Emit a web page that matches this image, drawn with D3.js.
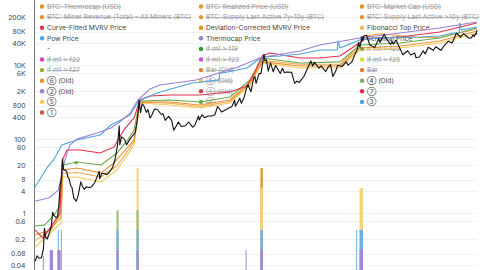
<!DOCTYPE html>
<html>
<head>
<meta charset="utf-8">
<script src="https://cdn.jsdelivr.net/npm/d3@7"></script>
<style>
  html, body { margin: 0; padding: 0; background: #fff; }
  svg { display: block; }
</style>
</head>
<body>
<div class="chart"></div>
<script>
'use strict';

// BTC price (USD)
var btcPrice = [
  ["2010-07-18", 0.05], ["2010-08-10", 0.07], ["2010-09-05", 0.06], ["2010-10-01", 0.062],
  ["2010-10-25", 0.11], ["2010-11-06", 0.39], ["2010-11-20", 0.22], ["2010-12-10", 0.2],
  ["2011-01-05", 0.3], ["2011-01-25", 0.42], ["2011-02-10", 1.05], ["2011-02-25", 0.88],
  ["2011-03-20", 0.76], ["2011-04-10", 0.8], ["2011-04-25", 1.6], ["2011-05-10", 5.5],
  ["2011-05-25", 8.5], ["2011-06-08", 29], ["2011-06-20", 15], ["2011-07-05", 14.5],
  ["2011-07-25", 13.8], ["2011-08-10", 9.5], ["2011-08-25", 8.3], ["2011-09-12", 5.6],
  ["2011-09-28", 4.9], ["2011-10-20", 2.5], ["2011-11-18", 2.1], ["2011-12-10", 3],
  ["2012-01-10", 7], ["2012-01-28", 5.4], ["2012-02-20", 4.4], ["2012-03-15", 5.1],
  ["2012-04-15", 4.9], ["2012-05-15", 5.1], ["2012-06-20", 6.5], ["2012-07-15", 8.8],
  ["2012-08-16", 13.5], ["2012-08-20", 8.5], ["2012-09-15", 12], ["2012-10-15", 11.8],
  ["2012-11-15", 11], ["2012-12-20", 13.5], ["2013-01-20", 17], ["2013-02-20", 29],
  ["2013-03-20", 70], ["2013-04-09", 230], ["2013-04-16", 70], ["2013-05-05", 115],
  ["2013-06-10", 100], ["2013-07-05", 70], ["2013-08-15", 100], ["2013-09-15", 125],
  ["2013-10-15", 150], ["2013-11-10", 330], ["2013-11-30", 1130], ["2013-12-18", 520],
  ["2014-01-05", 900], ["2014-01-25", 800], ["2014-02-25", 530], ["2014-03-15", 630],
  ["2014-04-10", 370], ["2014-05-01", 450], ["2014-06-01", 650], ["2014-07-05", 630],
  ["2014-08-18", 470], ["2014-09-10", 480], ["2014-10-05", 320], ["2014-11-15", 410],
  ["2014-12-20", 320], ["2015-01-14", 175], ["2015-02-10", 220], ["2015-03-10", 290],
  ["2015-04-15", 220], ["2015-06-01", 230], ["2015-07-10", 290], ["2015-08-25", 210],
  ["2015-09-20", 235], ["2015-11-04", 420], ["2015-11-12", 330], ["2015-12-15", 455],
  ["2016-01-15", 380], ["2016-02-25", 420], ["2016-04-15", 425], ["2016-05-15", 455],
  ["2016-06-17", 760], ["2016-07-10", 650], ["2016-08-02", 540], ["2016-09-15", 610],
  ["2016-10-28", 690], ["2016-12-01", 750], ["2017-01-05", 1130], ["2017-01-12", 780],
  ["2017-02-10", 990], ["2017-03-05", 1270], ["2017-03-25", 930], ["2017-04-25", 1300],
  ["2017-05-25", 2400], ["2017-06-12", 2950], ["2017-07-16", 1900], ["2017-08-15", 4300],
  ["2017-09-01", 4900], ["2017-09-15", 3200], ["2017-10-20", 5900], ["2017-11-12", 5900],
  ["2017-12-17", 19500], ["2017-12-30", 13000], ["2018-01-15", 14000], ["2018-02-06", 6900],
  ["2018-03-05", 11500], ["2018-04-06", 6600], ["2018-05-05", 9800], ["2018-06-28", 5900],
  ["2018-07-25", 8200], ["2018-08-15", 6300], ["2018-09-15", 6500], ["2018-11-10", 6400],
  ["2018-12-15", 3200], ["2019-01-10", 3700], ["2019-02-08", 3400], ["2019-04-05", 5000],
  ["2019-05-15", 8000], ["2019-06-26", 12900], ["2019-07-17", 9400], ["2019-08-06", 11800],
  ["2019-09-30", 8300], ["2019-10-26", 9500], ["2019-12-17", 6600], ["2020-01-15", 8800],
  ["2020-02-13", 10300], ["2020-03-12", 4900], ["2020-04-15", 6900], ["2020-05-08", 9900],
  ["2020-07-01", 9200], ["2020-08-17", 12300], ["2020-09-08", 10000], ["2020-10-20", 12000],
  ["2020-11-30", 19500], ["2020-12-31", 29000], ["2021-01-08", 40800], ["2021-01-27", 30400],
  ["2021-02-21", 57000], ["2021-02-28", 45000], ["2021-03-13", 61000], ["2021-04-14", 64000],
  ["2021-05-23", 34700], ["2021-06-22", 32500], ["2021-07-20", 29800], ["2021-09-06", 52000],
  ["2021-09-21", 40600], ["2021-11-09", 68000], ["2021-12-15", 48000], ["2022-01-24", 36500],
  ["2022-02-10", 44000], ["2022-02-24", 37000], ["2022-03-29", 47400], ["2022-05-12", 29000],
  ["2022-06-18", 19000], ["2022-08-14", 24400], ["2022-09-20", 18800], ["2022-11-05", 21300],
  ["2022-11-21", 15800], ["2022-12-31", 16500], ["2023-02-15", 24300], ["2023-03-10", 20000],
  ["2023-04-14", 30400], ["2023-06-15", 25100], ["2023-07-13", 31400], ["2023-09-11", 25100],
  ["2023-10-25", 34500], ["2023-12-08", 44000], ["2024-01-23", 39500], ["2024-03-13", 73000],
  ["2024-05-01", 57000], ["2024-06-07", 71000], ["2024-08-05", 54000], ["2024-09-06", 53900],
  ["2024-09-27", 65800], ["2024-10-10", 59000], ["2024-10-29", 72500], ["2024-11-03", 68500],
  ["2024-11-11", 88000]
];

var thermocapPrice = [
  ["2010-07-17", 2.1], ["2011-01-01", 2.6], ["2011-04-20", 4.2], ["2011-07-06", 27],
  ["2011-09-02", 69], ["2011-11-24", 100], ["2012-07-20", 146], ["2013-01-01", 200],
  ["2013-04-12", 290], ["2013-08-15", 500], ["2013-11-17", 1140], ["2014-04-09", 2270],
  ["2014-08-04", 2900], ["2015-10-06", 3960], ["2017-02-12", 8900], ["2017-10-27", 15600],
  ["2018-02-28", 17600], ["2019-02-17", 24100], ["2019-10-10", 35000], ["2021-01-26", 54100],
  ["2022-05-15", 73800], ["2023-08-29", 100800], ["2024-11-09", 146500]
];

var powPrice = [
  ["2010-07-17", 5.1], ["2010-12-05", 16.6], ["2011-02-20", 27], ["2011-05-31", 69],
  ["2011-11-24", 95], ["2012-08-25", 129], ["2013-01-01", 241], ["2013-04-27", 329],
  ["2013-08-15", 449], ["2013-11-17", 1008], ["2014-02-06", 1293], ["2014-08-04", 1880],
  ["2015-08-23", 3290], ["2016-07-05", 4000], ["2016-07-12", 6000], ["2016-10-13", 6520],
  ["2017-05-30", 8370], ["2017-11-24", 16600], ["2018-06-25", 17600], ["2019-02-17", 20000],
  ["2019-10-10", 25600], ["2020-05-05", 25600], ["2020-05-12", 44900], ["2020-06-03", 29000],
  ["2021-01-26", 47800], ["2021-09-20", 54100], ["2023-01-08", 57600], ["2023-08-29", 61300],
  ["2024-02-01", 73800], ["2024-04-15", 73800], ["2024-04-22", 137700], ["2024-05-10", 88900],
  ["2024-11-09", 107000]
];

var curveFittedMvrv = [
  ["2010-07-17", 0.35], ["2010-10-19", 0.21], ["2011-01-11", 0.4], ["2011-04-02", 0.74],
  ["2011-05-08", 1.07], ["2011-06-05", 27], ["2011-07-30", 51], ["2012-01-01", 51],
  ["2012-08-25", 42], ["2013-02-06", 61], ["2013-06-03", 177], ["2013-10-01", 373],
  ["2013-12-10", 1140], ["2014-04-09", 1465], ["2014-11-30", 1560], ["2015-11-20", 1560],
  ["2016-11-10", 1880], ["2017-05-30", 2730], ["2017-09-01", 6520], ["2017-11-24", 17600],
  ["2018-02-28", 21300], ["2019-02-17", 15600], ["2019-10-10", 15600], ["2020-06-03", 17600],
  ["2020-11-28", 32900], ["2021-03-25", 50800], ["2022-05-15", 57600], ["2023-08-29", 78700],
  ["2024-11-09", 137700]
];

var oldFour = [
  ["2010-07-17", 0.45], ["2010-11-11", 0.48], ["2011-02-27", 0.89], ["2011-04-27", 1.38],
  ["2011-06-13", 20], ["2011-11-24", 24], ["2012-09-05", 20], ["2013-03-14", 42],
  ["2013-07-19", 95], ["2013-10-01", 177], ["2013-12-10", 1072], ["2014-11-30", 1140],
  ["2015-11-20", 1010], ["2016-11-10", 1377], ["2017-07-05", 4000], ["2017-11-24", 15600],
  ["2019-02-17", 11400], ["2020-06-03", 12200], ["2021-01-26", 35000], ["2022-05-15", 39600],
  ["2023-08-29", 54100], ["2024-11-09", 100800]
];

var deviationMvrv = [
  ["2010-07-17", 0.26], ["2011-01-22", 0.35], ["2011-05-20", 1.0], ["2011-06-10", 14.6],
  ["2011-11-24", 16.6], ["2012-09-05", 12.2], ["2013-02-06", 22.6], ["2013-10-01", 95],
  ["2013-12-10", 1008], ["2014-11-30", 1008], ["2015-11-20", 837], ["2016-11-10", 1140],
  ["2017-07-05", 3500], ["2017-11-24", 12200], ["2019-02-17", 9480], ["2020-06-03", 9480],
  ["2021-01-26", 29000], ["2022-05-15", 32900], ["2023-08-29", 44900], ["2024-11-09", 83600]
];

var fibonacciTop = [
  ["2010-07-17", 0.18], ["2010-12-05", 0.3], ["2011-05-20", 0.74], ["2011-06-10", 12],
  ["2011-11-24", 12.5], ["2012-09-05", 9.5], ["2013-03-14", 19], ["2013-10-01", 84],
  ["2013-12-10", 1000], ["2014-11-30", 930], ["2015-11-20", 760], ["2016-11-10", 1040],
  ["2017-07-05", 3200], ["2017-11-24", 13500], ["2018-06-25", 12000], ["2019-02-17", 10500],
  ["2020-06-03", 10500], ["2020-11-28", 25600], ["2021-03-25", 61300], ["2021-09-20", 70000],
  ["2022-05-15", 62000], ["2023-01-08", 56000], ["2023-08-29", 56000], ["2024-11-09", 95000]
];

var fiveSeries = [
  ["2010-07-17", 0.12], ["2010-12-05", 0.23], ["2011-05-20", 0.54], ["2011-06-10", 9.5],
  ["2011-11-24", 9.5], ["2012-09-05", 6.9], ["2013-03-14", 14.6], ["2013-10-01", 69],
  ["2013-12-10", 948], ["2014-11-30", 837], ["2015-11-20", 695], ["2016-11-10", 948],
  ["2017-07-05", 2900], ["2017-11-24", 11400], ["2019-02-17", 8370], ["2020-06-03", 8370],
  ["2021-01-26", 25600], ["2022-05-15", 29000], ["2023-08-29", 39600], ["2024-11-09", 73800]
];

// signal bars: [from, to, level]
var sigOrange = [["2017-11-05", "2017-12-05", 16.6]];
var sigYellow = [["2013-10-31", "2013-11-24", 16.6], ["2017-11-05", "2017-12-05", 4.8],
  ["2021-01-22", "2021-03-03", 4.8]];
var sigGreen = [["2013-03-08", "2013-04-01", 1.2], ["2013-10-31", "2013-11-24", 1.2]];
var sigBlue = [["2011-04-13", "2011-04-20", 0.35], ["2011-05-19", "2011-05-26", 0.35],
  ["2013-03-08", "2013-04-01", 0.35], ["2013-10-31", "2013-11-24", 0.35],
  ["2017-11-05", "2017-12-05", 0.35], ["2020-12-12", "2020-12-19", 0.35],
  ["2021-01-22", "2021-03-03", 0.35]];
var sigPurple = [["2010-10-18", "2010-10-28", 0.07], ["2011-01-07", "2011-02-15", 0.1],
  ["2011-04-07", "2011-05-17", 0.1], ["2013-03-08", "2013-04-01", 0.1],
  ["2013-10-31", "2013-11-24", 0.1], ["2017-05-14", "2017-05-24", 0.1],
  ["2017-11-05", "2017-12-05", 0.1], ["2021-01-22", "2021-03-03", 0.1]];

var yTicks = [200000, 80000, 40000, 10000, 6000, 2000, 800, 400, 100, 60, 20, 8, 4, 1, 0.6, 0.2, 0.08, 0.04];

var legendCol1 = ["BTC: Thermocap (USD)", "BTC: Miner Revenue (Total) – All Miners (BTC)",
  "Curve-Fitted MVRV Price", "Pow Price", "-", "if m1 > f22", "if m1 > f27",
  "⑥ (Old)", "② (Old)", "⑤", "①"];
var legendCol2 = ["BTC: Realized Price (USD)", "BTC: Supply Last Active 7y-10y (BTC)",
  "Deviation-Corrected MVRV Price", "Thermocap Price", "if m1 > f19", "if m1 > f23",
  "Bar (Old)", "⑤ (Old)", "① (Old)", "④"];
var legendCol3 = ["BTC: Market Cap (USD)", "BTC: Supply Last Active >10y (BTC)",
  "Fibonacci Top Price", "Terminal Price", "if m1 > f20", "if m1 > f25",
  "Bar", "④ (Old)", "⑦", "③"];

var hiddenSeries = ["BTC: Thermocap (USD)", "BTC: Miner Revenue (Total) – All Miners (BTC)",
  "if m1 > f22", "if m1 > f27", "BTC: Realized Price (USD)", "BTC: Supply Last Active 7y-10y (BTC)",
  "if m1 > f19", "if m1 > f23", "Bar (Old)", "⑤ (Old)", "① (Old)", "④",
  "BTC: Market Cap (USD)", "BTC: Supply Last Active >10y (BTC)", "if m1 > f20", "if m1 > f25", "Bar"];

var legendColors = [
  ["#e8912e", "#e8912e", "#e0314b", "#4da3e0", null, "#d63fc0", "#9aac2d", "#e8912e", "#9b7fd4", "#f7c95a", "#c8563f"],
  ["#e8912e", "#e8912e", "#e8912e", "#9b7fd4", "#2a9a2a", "#c84fd8", "#e07b2c", "#f7c95a", "#d0453f", "#6aaa4c"],
  ["#e8912e", "#e8912e", "#f5b860", "#3d8fd0", "#1a9a3a", "#d6df3a", "#e07b2c", "#7ab464", "#e0314b", "#4da3e0"]
];

var width = 480, height = 270;
var plot = {left: 35, right: 477, top: 0, bottom: 270};
var font = "Inter, 'DejaVu Sans', sans-serif";

var parse = d3.utcParse('%Y-%m-%d');
function rows(arr) {
  return arr.map(function(d) { return {date: parse(d[0]), value: d[1]}; });
}

var x = d3.scaleUtc()
  .domain([parse('2010-07-17'), parse('2024-11-12')])
  .range([plot.left, plot.right]);

var y = d3.scaleLog()
  .domain([0.029, 575000])
  .range([plot.bottom, plot.top]);

var svg = d3.select('.chart').append('svg')
  .attr('width', width)
  .attr('height', height)
  .style('font-family', font);

// grid
svg.append('g').attr('class', 'grid')
  .selectAll('line').data(yTicks).enter().append('line')
    .attr('x1', plot.left).attr('x2', plot.right)
    .attr('y1', function(d) { return Math.round(y(d)) + 0.5; })
    .attr('y2', function(d) { return Math.round(y(d)) + 0.5; })
    .style('stroke', '#f1f1f1');

// y axis
var fmt = function(v) { return v >= 1000 ? (v / 1000) + 'K' : String(v); };
var axis = svg.append('g')
  .attr('transform', 'translate(' + (plot.left - 0.5) + ',0)')
  .call(d3.axisLeft(y).tickValues(yTicks).tickFormat(fmt).tickSize(0).tickPadding(9));
axis.select('.domain').attr('d', 'M0,0V' + height).style('stroke', '#777');
axis.selectAll('text')
  .style('font-family', font)
  .style('font-size', '6.8px')
  .style('fill', '#444');

// legend (drawn under the lines)
var legendX = [42, 201, 362];
var legend = svg.append('g').attr('class', 'legend');
[legendCol1, legendCol2, legendCol3].forEach(function(col, ci) {
  var g = legend.append('g');
  var item = g.selectAll('g').data(col).enter().append('g')
    .attr('transform', function(d, i) { return 'translate(' + legendX[ci] + ',' + (6.5 + i * 10.6) + ')'; });
  item.filter(function(d, i) { return legendColors[ci][i]; })
    .append('circle')
      .attr('r', 2.2)
      .style('fill', function(d, i) { return legendColors[ci][col.indexOf(d)]; });
  item.append('text')
    .attr('x', 5)
    .attr('dy', '0.35em')
    .style('font-size', '6.7px')
    .style('fill', function(d) { return hiddenSeries.indexOf(d) >= 0 ? '#999' : '#444'; })
    .style('text-decoration', function(d) { return hiddenSeries.indexOf(d) >= 0 ? 'line-through' : null; })
    .text(function(d) { return d; });
});

// signal bars, tallest first
var bars = svg.append('g').attr('class', 'bars');
[[sigOrange, '#e49b3c'], [sigYellow, '#f6d27e'], [sigGreen, '#95bf77'],
 [sigBlue, '#6db0e6'], [sigPurple, '#a387dc']].forEach(function(s) {
  bars.append('g').selectAll('rect').data(s[0]).enter().append('rect')
    .attr('x', function(d) { return x(parse(d[0])); })
    .attr('width', function(d) { return Math.max(1, x(parse(d[1])) - x(parse(d[0]))); })
    .attr('y', function(d) { return y(d[2]); })
    .attr('height', function(d) { return plot.bottom - y(d[2]); })
    .style('fill', s[1]);
});

var line = d3.line()
  .x(function(d) { return x(d.date); })
  .y(function(d) { return y(d.value); });

var series = [
  [fiveSeries, '#f7c95a'],
  [fibonacciTop, '#f0a848'],
  [deviationMvrv, '#e8912e'],
  [oldFour, '#6aaa4c'],
  [curveFittedMvrv, '#e0314b'],
  [powPrice, '#4da3e0'],
  [thermocapPrice, '#9b7fd4'],
  [btcPrice, '#111']
];

svg.append('g').attr('class', 'lines')
  .selectAll('path').data(series).enter().append('path')
    .attr('d', function(d) { return line(rows(d[0])); })
    .style('fill', 'none')
    .style('stroke', function(d) { return d[1]; })
    .style('stroke-width', 1.1)
    .style('stroke-linejoin', 'round');

// small marker on the ④ series
svg.append('rect')
  .attr('x', x(parse('2011-11-16')) - 1.5)
  .attr('y', y(23) - 1.5)
  .attr('width', 3).attr('height', 3)
  .style('fill', '#6aaa4c');
</script>
</body>
</html>
